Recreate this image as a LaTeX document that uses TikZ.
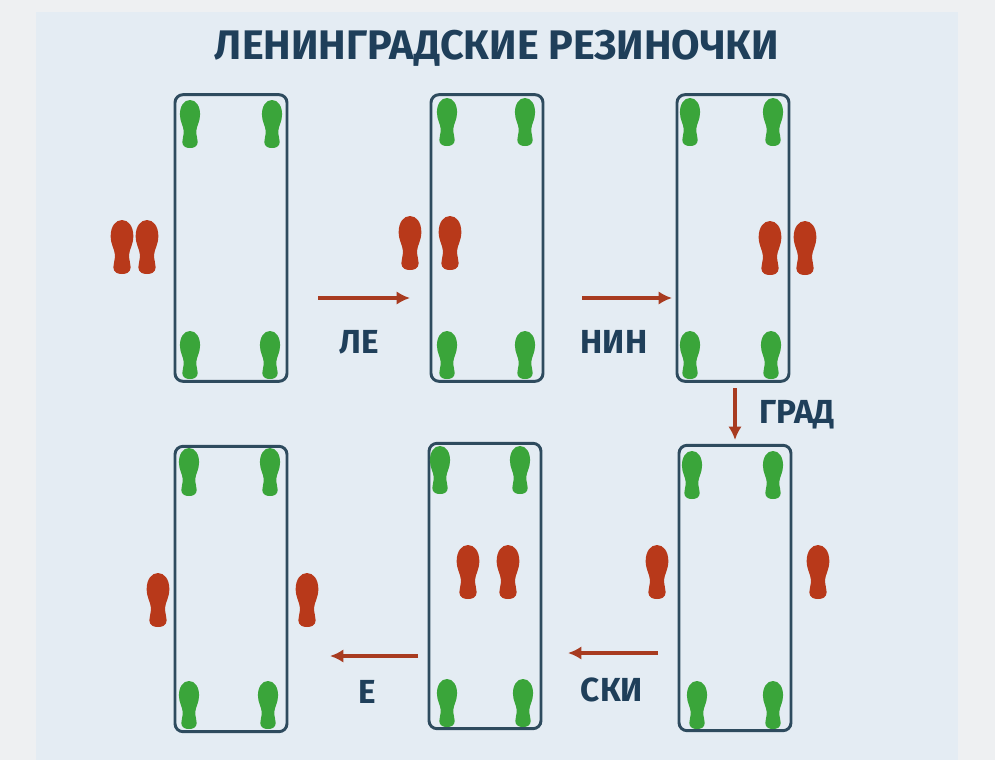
\documentclass[tikz,border=0pt]{standalone}
\usepackage{fontspec}
\setmainfont{Fira Sans}
\usetikzlibrary{arrows.meta}
\begin{document}
\begin{tikzpicture}[x=0.75pt,y=-0.75pt,
  box/.style={draw=boxc,line width=2.2pt,rounded corners=6pt},
  arr/.style={draw=arrc,line width=2.6pt,-{Latex[length=10pt,width=10pt]}},
  lbl/.style={font=\bfseries\fontsize{25}{28}\selectfont,text=titlec},
  foot/.pic={\fill[pic actions] (0,-1) .. controls (0.25,-1) and (0.42,-0.75) .. (0.42,-0.4) .. controls (0.42,-0.1) and (0.27,0.1) .. (0.26,0.3) .. controls (0.26,0.5) and (0.32,0.6) .. (0.32,0.75) .. controls (0.32,0.95) and (0.15,1) .. (0,1) .. controls (-0.15,1) and (-0.32,0.95) .. (-0.32,0.75) .. controls (-0.32,0.6) and (-0.26,0.5) .. (-0.26,0.3) .. controls (-0.27,0.1) and (-0.42,-0.1) .. (-0.42,-0.4) .. controls (-0.42,-0.75) and (-0.25,-1) .. (0,-1) -- cycle;},
  gf/.style={fill=greenc,scale=24},
  rf/.style={fill=redc,scale=27}]
\definecolor{boxc}{HTML}{2E4B5E}
\definecolor{arrc}{HTML}{A83B20}
\definecolor{titlec}{HTML}{1F3F5A}
\definecolor{greenc}{HTML}{3AA53A}
\definecolor{redc}{HTML}{B8391A}
\fill[fill={rgb,255:red,238;green,240;blue,242}] (0,0) rectangle (995,760);
\fill[fill={rgb,255:red,228;green,236;blue,243}] (36,12) rectangle (958,760);
\useasboundingbox (0,0) rectangle (995,760);
\node[font=\bfseries\fontsize{31}{34}\selectfont,text=titlec] (title) at (497,48) {ЛЕНИНГРАДСКИЕ РЕЗИНОЧКИ};
% boxes
\node[box,minimum width=84pt,minimum height=215pt] (r1) at (231,238) {};
\node[box,minimum width=84pt,minimum height=215pt] (r2) at (487,238) {};
\node[box,minimum width=84pt,minimum height=215pt] (r3) at (733,238) {};
\node[box,minimum width=84pt,minimum height=214pt] (r4) at (231,589) {};
\node[box,minimum width=84pt,minimum height=214pt] (r5) at (485,586) {};
\node[box,minimum width=84pt,minimum height=214pt] (r6) at (735,588) {};
% green feet
\foreach \x/\y in {190/124,272/124,190/355,270/355, 447/122,525/122,447/355,525/355,
  690/122,773/122,690/355,771/355, 189/472,270/472,189/705,268/705,
  440/470,520/470,447/703,523/703, 692/475,773/475,697/705,773/705}
  \pic[gf] at (\x,\y) {foot};
% red feet
\foreach \x/\y in {122/247,147/247, 410/243,450/243, 770/248,805/248,
  158/600,307/600, 468/572,508/572, 657/572,818/572}
  \pic[rf] at (\x,\y) {foot};
% arrows
\coordinate (a1s) at (318,298); \coordinate (a1e) at (410,298);
\coordinate (a2s) at (582,298); \coordinate (a2e) at (672,298);
\coordinate (a3s) at (735,388); \coordinate (a3e) at (735,440);
\coordinate (a4s) at (658,653); \coordinate (a4e) at (568,653);
\coordinate (a5s) at (418,656); \coordinate (a5e) at (330,656);
\draw[arr] (a1s) -- (a1e);
\draw[arr] (a2s) -- (a2e);
\draw[arr] (a3s) -- (a3e);
\draw[arr] (a4s) -- (a4e);
\draw[arr] (a5s) -- (a5e);
\node[lbl] (l1) at (359,342) {ЛЕ};
\node[lbl] (l2) at (614,342) {НИН};
\node[lbl] (l3) at (797,415) {ГРАД};
\node[lbl] (l4) at (612,690) {СКИ};
\node[lbl] (l5) at (367,692) {Е};
\end{tikzpicture}
\end{document}
